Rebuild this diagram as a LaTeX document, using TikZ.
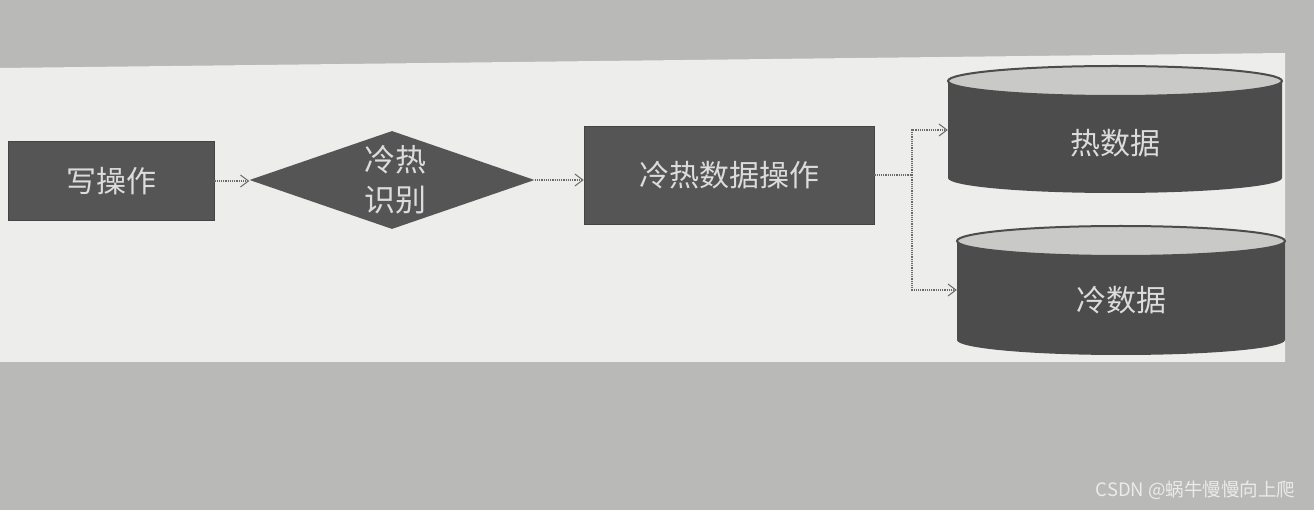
\documentclass[tikz,border=0pt]{standalone}
\usepackage{fontspec}
\setmainfont{Noto Sans CJK SC}
\newfontfamily\cjk{Noto Sans CJK SC}
\usetikzlibrary{shapes.geometric,arrows.meta}
\definecolor{photobg}{HTML}{B9B9B7}
\definecolor{paper}{HTML}{EDEDEB}
\definecolor{boxfill}{HTML}{555555}
\definecolor{cylfill}{HTML}{4C4C4C}
\definecolor{cyltop}{HTML}{C9C9C7}
\definecolor{txt}{HTML}{DCDCDC}
\definecolor{linec}{HTML}{6A6A6A}
\tikzset{
  procbox/.style={rectangle, fill=boxfill, draw=boxfill!80!black, line width=0.6pt, inner sep=0pt, text=txt, font=\cjk\fontsize{30}{36}\selectfont},
  decide/.style={diamond, fill=boxfill, inner sep=0pt},
  cyllabel/.style={text=txt, font=\cjk\fontsize{30}{36}\selectfont},
  cylanchor/.style={rectangle, inner sep=0pt},
  flow/.style={draw=linec, line width=1.2pt, densely dotted, -{Straight Barb[length=8pt,width=12pt,line width=1pt]}},
}
\begin{document}
\begin{tikzpicture}[x=1pt,y=-1pt]
\useasboundingbox (0,0) rectangle (1314,510);
\fill[photobg] (0,0) rectangle (1314,510);
\fill[paper] (0,68) -- (1285,53) -- (1285,362) -- (0,362) -- cycle;

% nodes
\node[procbox, minimum width=206pt, minimum height=79pt] (write) at (111,181) {写操作};
\node[decide, minimum width=285pt, minimum height=98pt] (ident) at (392,180) {};
\node[text=txt, font=\cjk\fontsize{31}{40}\selectfont, align=center] (identtxt) at (395,180) {冷热\\识别};
\node[procbox, minimum width=290pt, minimum height=98pt] (op) at (729,175) {冷热数据操作};

% hot cylinder
\path[fill=cylfill] (948,81) -- (948,178) arc[start angle=180,end angle=0,x radius=167,y radius=15] -- (1282,81) -- cycle;
\path[fill=cyltop, draw=cylfill, line width=2pt] (1115,81) ellipse[x radius=167, y radius=15];
\node[cylanchor, minimum width=334pt, minimum height=127pt] (hot) at (1115,130) {};
\node[cyllabel] (hottxt) at (1115,143) {热数据};

% cold cylinder
\path[fill=cylfill] (957,241) -- (957,340) arc[start angle=180,end angle=0,x radius=164,y radius=15] -- (1285,241) -- cycle;
\path[fill=cyltop, draw=cylfill, line width=2pt] (1121,241) ellipse[x radius=164, y radius=15];
\node[cylanchor, minimum width=328pt, minimum height=129pt] (cold) at (1121,290) {};
\node[cyllabel] (coldtxt) at (1121,300) {冷数据};

% connectors
\coordinate (split) at (912,175);
\draw[flow] (write.east) -- (write.east -| ident.west);
\draw[flow] (ident.east) -- (op.west |- ident.east);
\draw[draw=linec, line width=1.2pt, densely dotted] (op.east |- split) -- (split);
\draw[flow] (split) |- (hot.west);
\draw[flow] (split) |- (cold.west);

% watermark
\node[text=white!92!black, font=\cjk\fontsize{18.5}{20}\selectfont, anchor=east] (wm) at (1299,490) {CSDN @蜗牛慢慢向上爬};
\end{tikzpicture}
\end{document}
